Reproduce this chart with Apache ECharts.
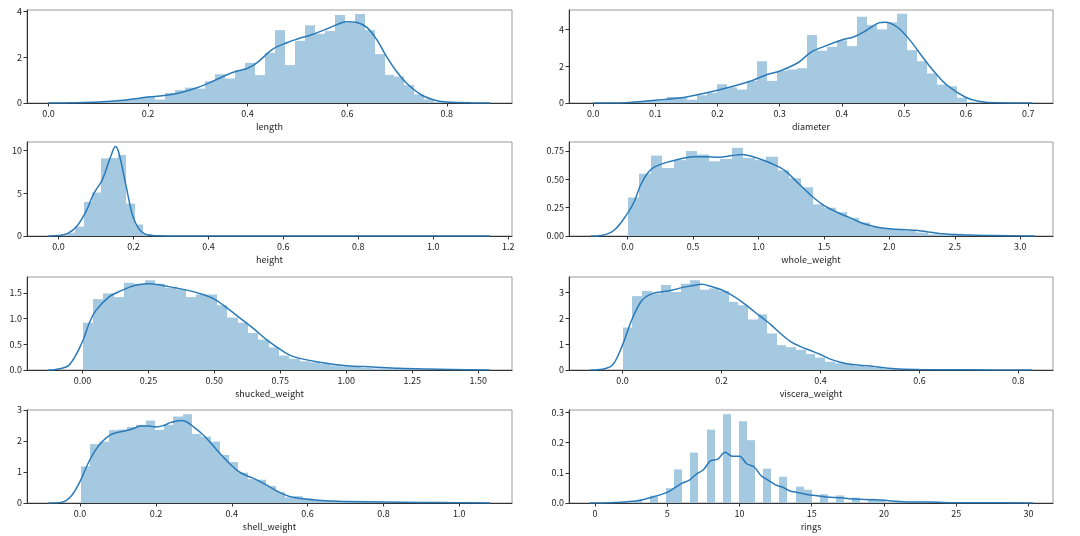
<!DOCTYPE html>
<html>
<head>
<meta charset="utf-8">
<script src="https://cdn.jsdelivr.net/npm/echarts@6/dist/echarts.min.js"></script>
<style>
html,body{margin:0;padding:0;background:#fff;}
#chart{width:1080px;height:536px;}
</style>
</head>
<body>
<div id="chart"></div>
<script>
// ---------- data ----------
const panelNames = ['length','diameter','height','whole_weight','shucked_weight','viscera_weight','shell_weight','rings'];

// histogram bins: first edge, bin width, density per bin
const lengthBinStart = 0.075, lengthBinWidth = 0.02;
const lengthDensity = [0.03,0.04,0.07,0.12,0.18,0.22,0.28,0.15,0.44,0.56,0.67,0.63,0.95,1.26,1.07,1.43,1.76,1.22,2.2,3.19,1.66,2.72,3.4,3.03,3.15,3.85,3.5,3.9,3.19,2.14,1.23,1.16,0.78,0.38,0.16,0.04,0.03];
const lengthKdeX = [0,0.05,0.1,0.15,0.2,0.25,0.3,0.33,0.36,0.38,0.4,0.42,0.45,0.48,0.5,0.53,0.56,0.59,0.6,0.62,0.64,0.66,0.68,0.7,0.72,0.75,0.78,0.8,0.85,0.887];
const lengthKdeY = [0,0.01,0.04,0.12,0.26,0.38,0.68,0.95,1.25,1.4,1.52,1.78,2.35,2.65,2.8,3.0,3.25,3.52,3.56,3.52,3.3,2.75,2.0,1.36,0.85,0.34,0.1,0.04,0.005,0];

const diameterBinStart = 0.055, diameterBinWidth = 0.01608;
const diameterDensity = [0.02,0.05,0.12,0.2,0.33,0.3,0.18,0.42,0.55,1.02,0.85,0.73,1.2,2.27,1.2,1.75,1.82,1.89,3.69,2.84,3.05,3.4,3.09,4.69,4.24,4.0,4.38,4.84,2.87,2.27,1.6,1.0,0.91,0.29,0.05,0.02,0.02];
const diameterKdeX = [0,0.05,0.1,0.15,0.2,0.25,0.28,0.3,0.33,0.35,0.37,0.4,0.42,0.44,0.46,0.47,0.49,0.51,0.53,0.55,0.57,0.6,0.62,0.65,0.707];
const diameterKdeY = [0,0.02,0.15,0.33,0.69,1.15,1.55,1.73,2.2,2.75,3.05,3.42,3.6,3.95,4.35,4.38,4.1,3.4,2.5,1.65,0.95,0.3,0.1,0.01,0];

const heightBinStart = 0, heightBinWidth = 0.0226;
const heightDensity = [0.02,0.4,1.1,4.0,5.1,9.1,9.15,9.5,3.8,1.35,0.22,0.02,0,0,0,0,0,0,0,0,0,0,0.01,0,0,0,0,0,0,0,0,0,0,0,0,0,0,0,0,0,0,0,0,0,0,0,0,0,0,0.01];
const heightKdeX = [-0.027,0,0.025,0.05,0.075,0.09,0.1,0.115,0.125,0.14,0.152,0.16,0.175,0.19,0.2,0.215,0.23,0.25,0.3,0.5,1.151];
const heightKdeY = [0,0.05,0.3,1.2,3.0,4.6,5.4,6.4,7.5,9.4,10.5,9.9,7.0,3.8,2.1,0.8,0.25,0.05,0.003,0.002,0];

const wholeBinStart = 0.002, wholeBinWidth = 0.0882;
const wholeDensity = [0.34,0.55,0.71,0.6,0.67,0.75,0.72,0.66,0.68,0.78,0.69,0.67,0.7,0.58,0.51,0.43,0.28,0.25,0.21,0.16,0.12,0.08,0.065,0.055,0.045,0.03,0.015,0.01,0.02,0.005,0.003,0.003];
const wholeKdeX = [-0.28,-0.2,-0.1,0,0.05,0.1,0.15,0.2,0.3,0.4,0.5,0.6,0.7,0.8,0.87,1.0,1.1,1.2,1.3,1.4,1.5,1.6,1.7,1.8,1.9,2.0,2.2,2.4,2.6,2.8,3.11];
const wholeKdeY = [0,0.005,0.053,0.2,0.3,0.45,0.55,0.606,0.65,0.68,0.70,0.70,0.695,0.71,0.72,0.685,0.64,0.58,0.47,0.36,0.27,0.21,0.16,0.11,0.08,0.065,0.05,0.02,0.008,0.004,0];

const shuckedBinStart = 0.001, shuckedBinWidth = 0.03913;
const shuckedDensity = [0.92,1.38,1.49,1.42,1.7,1.68,1.745,1.68,1.6,1.57,1.42,1.47,1.47,1.26,1.02,0.92,0.72,0.59,0.44,0.28,0.22,0.17,0.15,0.12,0.09,0.07,0.06,0.04,0.03,0.03,0.02,0.02,0.01,0.005,0.005,0,0.005,0.005];
const shuckedKdeX = [-0.129,-0.1,-0.05,0,0.025,0.05,0.1,0.15,0.2,0.25,0.3,0.35,0.4,0.45,0.5,0.55,0.6,0.65,0.7,0.75,0.8,0.9,1.0,1.1,1.2,1.3,1.4,1.544];
const shuckedKdeY = [0,0.01,0.1,0.55,0.9,1.15,1.42,1.55,1.65,1.68,1.65,1.6,1.55,1.48,1.38,1.2,1.0,0.8,0.58,0.4,0.26,0.15,0.085,0.06,0.035,0.02,0.01,0];

const visceraBinStart = 0.0005, visceraBinWidth = 0.01947;
const visceraDensity = [1.64,2.85,3.05,2.95,3.28,3.01,3.33,3.46,3.1,3.15,3.05,2.63,2.5,1.95,2.15,1.41,0.96,0.88,0.78,0.62,0.48,0.32,0.26,0.24,0.15,0.12,0.08,0.04,0.03,0.02,0.015,0.01,0.01,0.005,0.005,0.003,0.003,0,0.003];
const visceraKdeX = [-0.065,-0.04,-0.02,0,0.02,0.04,0.06,0.08,0.1,0.12,0.14,0.16,0.18,0.2,0.22,0.24,0.26,0.28,0.3,0.32,0.34,0.36,0.38,0.4,0.42,0.44,0.46,0.5,0.55,0.6,0.7,0.828];
const visceraKdeY = [0,0.03,0.19,0.96,1.99,2.7,2.95,3.02,3.08,3.18,3.25,3.31,3.22,3.1,2.9,2.65,2.35,2.05,1.75,1.4,1.1,0.9,0.75,0.6,0.42,0.3,0.22,0.15,0.05,0.02,0.005,0];

const shellBinStart = 0.0015, shellBinWidth = 0.02448;
const shellDensity = [1.18,1.9,1.98,2.35,2.37,2.45,2.52,2.66,2.36,2.52,2.79,2.86,2.23,2.14,1.98,1.55,1.32,0.98,0.77,0.75,0.55,0.35,0.18,0.22,0.15,0.1,0.07,0.06,0.04,0.035,0.03,0.02,0.02,0.015,0.01,0.01,0.005,0.005,0,0.005,0.005];
const shellKdeX = [-0.083,-0.05,-0.025,0,0.02,0.04,0.06,0.08,0.1,0.12,0.14,0.16,0.18,0.2,0.22,0.24,0.265,0.28,0.3,0.32,0.34,0.36,0.38,0.4,0.42,0.44,0.46,0.48,0.5,0.52,0.55,0.6,0.65,0.7,0.8,0.9,1.0,1.081];
const shellKdeY = [0,0.02,0.2,0.7,1.25,1.7,2.0,2.2,2.28,2.33,2.4,2.48,2.48,2.45,2.5,2.6,2.66,2.62,2.45,2.25,2.0,1.72,1.45,1.2,1.0,0.88,0.78,0.66,0.52,0.38,0.22,0.12,0.07,0.05,0.03,0.02,0.01,0];

const ringsBinStart = 1, ringsBinWidth = 0.56;
const ringsDensity = [0.0004,0.0004,0,0.0064,0,0.0244,0,0.049,0.111,0,0.167,0,0.243,0,0.294,0,0.271,0.208,0,0.114,0,0.087,0,0.054,0.044,0,0.029,0,0.025,0,0.018,0,0.014,0.011,0,0.006,0,0.0026,0,0.0038,0,0.0009,0.0004,0,0.0004,0,0.0009,0,0,0.0004];
const ringsKdeX = [-0.35,1,2,3,4,5,5.5,6,6.5,7,7.5,8,8.5,9,9.5,10,10.5,11,11.5,12,12.5,13,13.5,14,14.5,15,16,17,18,19,20,21,22,23,25,27,30.3];
const ringsKdeY = [0,0.001,0.003,0.008,0.02,0.035,0.05,0.065,0.075,0.095,0.11,0.14,0.145,0.168,0.155,0.155,0.13,0.12,0.09,0.075,0.06,0.052,0.04,0.035,0.03,0.026,0.02,0.017,0.013,0.011,0.009,0.005,0.003,0.003,0.001,0.0008,0];

// tick values
const xTicks = [
  [0,0.2,0.4,0.6,0.8],
  [0,0.1,0.2,0.3,0.4,0.5,0.6,0.7],
  [0,0.2,0.4,0.6,0.8,1.0,1.2],
  [0,0.5,1.0,1.5,2.0,2.5,3.0],
  [0,0.25,0.5,0.75,1.0,1.25,1.5],
  [0,0.2,0.4,0.6,0.8],
  [0,0.2,0.4,0.6,0.8,1.0],
  [0,5,10,15,20,25,30]
];
const xTickDecimals = [1,1,1,1,2,1,1,0];
const yTicks = [
  [0,2,4],[0,2,4],[0,5,10],[0,0.25,0.5,0.75],[0,0.5,1.0,1.5],[0,1,2,3],[0,1,2,3],[0,0.1,0.2,0.3]
];
const yTickDecimals = [0,0,0,2,1,0,0,1];

// ---------- layout / styles ----------
const xRange = [[-0.043,0.931],[-0.039,0.740],[-0.084,1.21],[-0.447,3.25],[-0.21,1.628],[-0.108,0.870],[-0.14,1.139],[-1.8,31.7]];
const yMax = [4.07,5.05,11.02,0.83,1.81,3.59,3.0,0.308];
const grids = [
  {left:27,top:10,width:485,height:93},
  {left:569,top:10,width:484,height:93},
  {left:27,top:142,width:485,height:94},
  {left:569,top:142,width:484,height:94},
  {left:27,top:277,width:485,height:93},
  {left:569,top:277,width:484,height:93},
  {left:27,top:410,width:485,height:93},
  {left:569,top:410,width:484,height:93}
];

const hist = [
  [lengthBinStart,lengthBinWidth,lengthDensity],
  [diameterBinStart,diameterBinWidth,diameterDensity],
  [heightBinStart,heightBinWidth,heightDensity],
  [wholeBinStart,wholeBinWidth,wholeDensity],
  [shuckedBinStart,shuckedBinWidth,shuckedDensity],
  [visceraBinStart,visceraBinWidth,visceraDensity],
  [shellBinStart,shellBinWidth,shellDensity],
  [ringsBinStart,ringsBinWidth,ringsDensity]
];
const kde = [
  [lengthKdeX,lengthKdeY],[diameterKdeX,diameterKdeY],[heightKdeX,heightKdeY],[wholeKdeX,wholeKdeY],
  [shuckedKdeX,shuckedKdeY],[visceraKdeX,visceraKdeY],[shellKdeX,shellKdeY],[ringsKdeX,ringsKdeY]
];

const FONT = '"Noto Sans CJK SC", "DejaVu Sans", sans-serif';
const TXT = '#222';
const BAR = 'rgb(165,201,225)';
const LINE = '#2a7ab8';

function renderBar(params, api) {
  const x0 = api.value(0), x1 = api.value(1), h = api.value(2);
  const p0 = api.coord([x0, h]);
  const p1 = api.coord([x1, 0]);
  const l = Math.round(p0[0]), r = Math.round(p1[0]);
  return {
    type: 'rect',
    shape: {x: l, y: p0[1], width: Math.max(r - l, 0), height: p1[1] - p0[1]},
    style: {fill: BAR}
  };
}

const option = {
  animation: false,
  backgroundColor: '#fff',
  grid: grids.map(g => Object.assign({show: true, borderColor: '#9a9a9a', borderWidth: 1, containLabel: false}, g)),
  xAxis: [], yAxis: [], series: []
};

for (let i = 0; i < 8; i++) {
  const xd = xTickDecimals[i], yd = yTickDecimals[i];
  option.xAxis.push({
    type: 'value', gridIndex: i, min: xRange[i][0], max: xRange[i][1],
    name: panelNames[i], nameLocation: 'middle', nameGap: 19,
    nameTextStyle: {fontFamily: FONT, fontSize: 9, color: TXT},
    axisLine: {show: true, onZero: false, lineStyle: {color: '#333', width: 1}},
    axisTick: {show: true, length: 3.5, customValues: xTicks[i], lineStyle: {color: '#333'}},
    axisLabel: {customValues: xTicks[i], margin: 6, fontFamily: FONT, fontSize: 9, color: TXT,
      formatter: v => Number(v).toFixed(xd)},
    splitLine: {show: false}
  });
  option.yAxis.push({
    type: 'value', gridIndex: i, min: 0, max: yMax[i],
    axisLine: {show: true, onZero: false, lineStyle: {color: '#333', width: 1}},
    axisTick: {show: true, length: 3.5, customValues: yTicks[i], lineStyle: {color: '#333'}},
    axisLabel: {customValues: yTicks[i], margin: 5, fontFamily: FONT, fontSize: 9, color: TXT,
      formatter: v => Number(v).toFixed(yd)},
    splitLine: {show: false}
  });
  const [start, w, dens] = hist[i];
  const barData = dens.map((d, k) => [start + k * w, start + (k + 1) * w, d]);
  option.series.push({
    type: 'custom', xAxisIndex: i, yAxisIndex: i, renderItem: renderBar,
    data: barData, clip: true, silent: true, z: 1
  });
  const [kx, ky] = kde[i];
  option.series.push({
    type: 'line', xAxisIndex: i, yAxisIndex: i, data: kx.map((x, k) => [x, ky[k]]),
    showSymbol: false, smooth: 0.35, lineStyle: {color: LINE, width: 1.5}, silent: true, z: 2
  });
}

const chart = echarts.init(document.getElementById('chart'), null, {renderer: 'canvas'});
chart.setOption(option);
</script>
</body>
</html>
